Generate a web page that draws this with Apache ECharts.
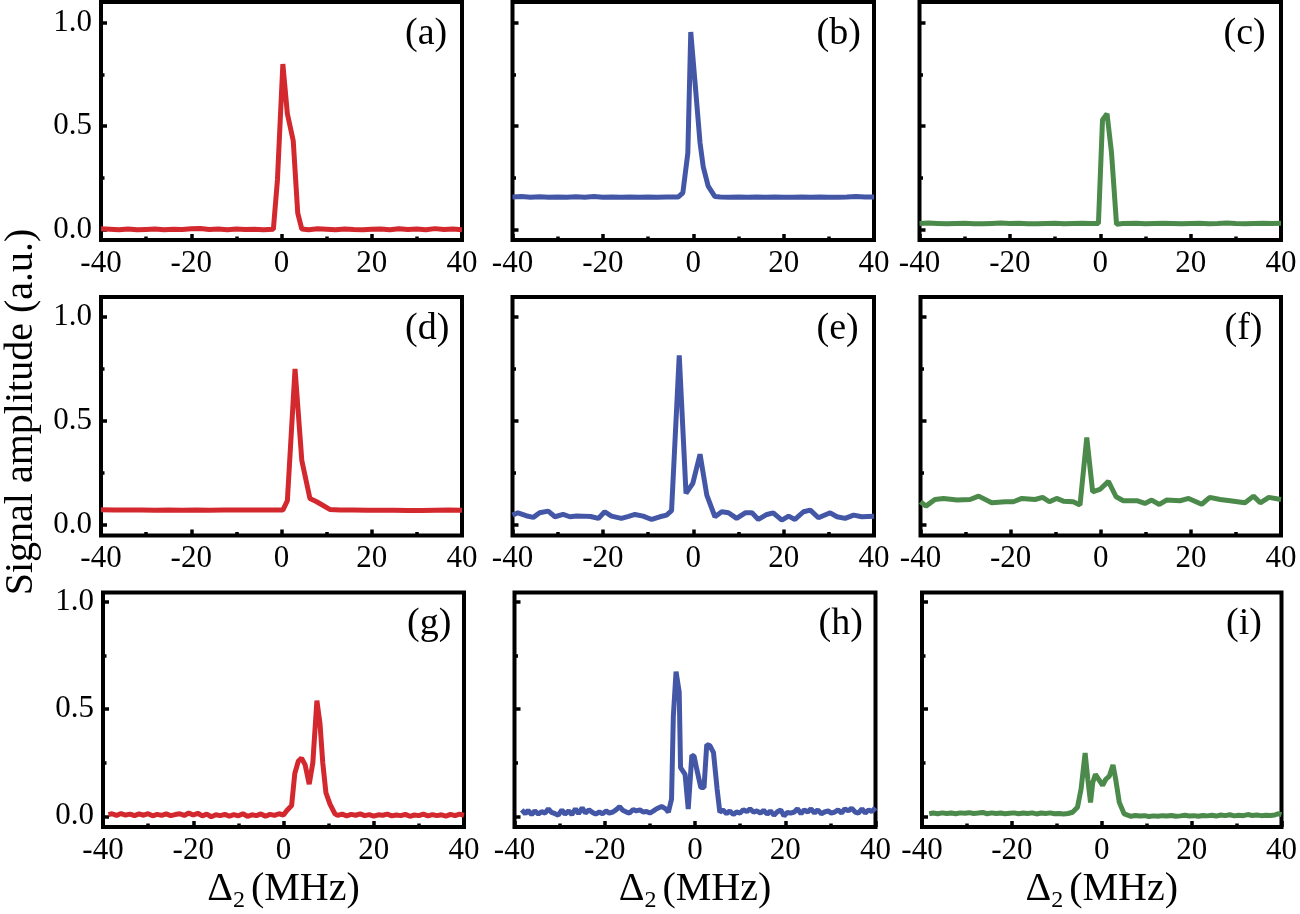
<!DOCTYPE html>
<html style="height: 100%">
<head>
    <meta charset="utf-8">
</head>
<body style="height: 100%; margin: 0; background: #fff">
<div id="container" style="width: 1300px; height: 914px"></div>
<script type="text/javascript" src="https://cdn.jsdelivr.net/npm/echarts@6.0.0/dist/echarts.min.js"></script>
<script type="text/javascript">
    // --- data: [detuning (MHz), amplitude (a.u.)] ---
    var panelA = [
        [-40, 0.004], [-38, 0.002], [-36, 0.0], [-34, 0.003], [-32, -0.001], [-30, 0.001], [-28, 0.003],
        [-26, 0.0], [-24, 0.002], [-22, 0.001], [-20, 0.004], [-18, 0.006], [-16, 0.001], [-14, 0.003],
        [-12, 0.0], [-10, 0.003], [-8, 0.001], [-6, 0.002], [-4, 0.0], [-1.8, 0.002], [-0.9, 0.24],
        [0.3, 0.8], [1.3, 0.56], [2.6, 0.43], [3.6, 0.08], [4.5, 0.003], [6, 0.0], [8, 0.004],
        [10, 0.002], [12, 0.0], [14, 0.003], [16, 0.001], [18, 0.0], [20, 0.002], [22, 0.003], [24, 0.0],
        [26, 0.004], [28, 0.001], [30, 0.003], [32, 0.0], [34, 0.005], [36, 0.001], [38, 0.003], [40, 0.0]
    ];
    var panelB = [
        [-40, 0.158], [-38, 0.16], [-36, 0.157], [-34, 0.159], [-32, 0.157], [-30, 0.158], [-28, 0.157],
        [-26, 0.159], [-24, 0.157], [-22, 0.16], [-20, 0.157], [-18, 0.158], [-16, 0.156], [-14, 0.158],
        [-12, 0.157], [-10, 0.158], [-8, 0.157], [-6, 0.158], [-3.3, 0.158], [-2.3, 0.178], [-1.2, 0.37],
        [-0.55, 0.955], [0.4, 0.71], [1.5, 0.42], [2.2, 0.305], [3.3, 0.21], [4.8, 0.16], [6, 0.158],
        [8, 0.157], [10, 0.158], [12, 0.157], [14, 0.158], [16, 0.157], [18, 0.158], [20, 0.157],
        [22, 0.157], [24, 0.158], [26, 0.157], [28, 0.158], [30, 0.157], [32, 0.157], [34, 0.158],
        [36, 0.16], [38, 0.158], [40, 0.158]
    ];
    var panelC = [
        [-40, 0.03], [-38, 0.032], [-36, 0.03], [-34, 0.028], [-32, 0.03], [-30, 0.031], [-28, 0.029],
        [-26, 0.028], [-24, 0.03], [-22, 0.032], [-20, 0.03], [-18, 0.031], [-16, 0.029], [-14, 0.028],
        [-12, 0.03], [-10, 0.031], [-8, 0.029], [-6, 0.03], [-4, 0.031], [-2, 0.03], [-0.4, 0.03],
        [0.5, 0.53], [1.5, 0.56], [2.5, 0.37], [3.6, 0.026], [5, 0.03], [8, 0.031], [10, 0.029],
        [12, 0.03], [14, 0.031], [16, 0.03], [18, 0.029], [20, 0.03], [22, 0.031], [24, 0.029], [26, 0.03],
        [28, 0.032], [30, 0.03], [32, 0.029], [34, 0.03], [36, 0.031], [38, 0.03], [40, 0.031]
    ];
    var panelD = [
        [-40, 0.074], [-37, 0.073], [-34, 0.072], [-31, 0.073], [-28, 0.071], [-25, 0.072], [-22, 0.071],
        [-19, 0.072], [-16, 0.071], [-13, 0.072], [-10, 0.073], [-7, 0.072], [-4, 0.073], [-2, 0.072],
        [0.3, 0.072], [1.3, 0.117], [3.0, 0.75], [4.5, 0.31], [6.3, 0.128], [7.8, 0.112], [10.7, 0.075],
        [13, 0.073], [16, 0.072], [19, 0.071], [22, 0.071], [25, 0.071], [28, 0.07], [31, 0.07],
        [34, 0.071], [37, 0.072], [40, 0.071]
    ];
    var panelE = [
        [-40, 0.048], [-38.8, 0.059], [-37, 0.045], [-35.4, 0.037], [-34, 0.059], [-32.1, 0.067],
        [-30.6, 0.04], [-28.8, 0.051], [-27.3, 0.04], [-25.8, 0.044], [-24.4, 0.043], [-22.7, 0.041],
        [-21.0, 0.032], [-19.6, 0.064], [-18.1, 0.043], [-15.9, 0.032], [-14.3, 0.042], [-12.9, 0.051],
        [-11.1, 0.043], [-9.2, 0.027], [-7.4, 0.04], [-5.9, 0.048], [-4.8, 0.069], [-3.1, 0.815],
        [-1.6, 0.152], [-0.1, 0.2], [1.5, 0.34], [3.0, 0.144], [4.8, 0.04], [6.3, 0.064], [7.8, 0.059],
        [9.6, 0.032], [11.5, 0.059], [13.0, 0.059], [14.4, 0.027], [16.3, 0.051], [17.7, 0.059],
        [19.6, 0.024], [21.1, 0.043], [22.5, 0.027], [24.4, 0.064], [25.9, 0.072], [27.7, 0.035],
        [30.3, 0.059], [31.8, 0.04], [33.6, 0.032], [35.5, 0.048], [37.3, 0.04], [40, 0.043]
    ];
    var panelF = [
        [-40, 0.112], [-38.8, 0.091], [-36.8, 0.123], [-34.9, 0.128], [-31.9, 0.12], [-29, 0.123],
        [-27.1, 0.139], [-24.2, 0.107], [-21.2, 0.112], [-19.4, 0.112], [-17.5, 0.128], [-14.6, 0.123],
        [-12.9, 0.133], [-11.4, 0.112], [-9.8, 0.128], [-8.3, 0.115], [-6.1, 0.112], [-4.6, 0.096],
        [-3.1, 0.42], [-1.8, 0.16], [-0.2, 0.171], [1.7, 0.21], [3.4, 0.136], [5, 0.117], [8, 0.117],
        [9.8, 0.104], [11.3, 0.12], [13, 0.099], [14.6, 0.12], [17.6, 0.117], [19.5, 0.128], [22.4, 0.1],
        [24.2, 0.133], [26.5, 0.123], [28.7, 0.117], [32, 0.107], [33.9, 0.139], [35.4, 0.107],
        [37.3, 0.133], [40, 0.123]
    ];
    var panelG = [
        [-38.8, 0.008], [-38, 0.012], [-37, 0.004], [-36, 0.013], [-35, 0.006], [-34, 0.01], [-33, 0.003],
        [-32, 0.011], [-31, 0.005], [-30, 0.012], [-29, 0.002], [-28, 0.009], [-27, 0.004], [-26, 0.011],
        [-25, 0.003], [-24, 0.008], [-23, 0.012], [-22, 0.004], [-21, 0.015], [-20, 0.006], [-19, 0.014],
        [-18, 0.002], [-17, 0.01], [-16, -0.002], [-15, 0.007], [-14, 0.003], [-13, 0.009], [-12, 0.001],
        [-11, 0.008], [-10, 0.002], [-9, 0.012], [-8, 0.0], [-7, 0.007], [-6, 0.003], [-5, 0.011],
        [-4, 0.0], [-3, 0.009], [-2, 0.004], [-1, 0.012], [0, 0.006], [0.7, 0.026], [1.8, 0.05],
        [2.5, 0.2], [3.3, 0.258], [4.0, 0.272], [4.8, 0.24], [5.7, 0.15], [6.5, 0.25], [7.4, 0.54],
        [8.1, 0.43], [8.7, 0.25], [9.4, 0.11], [10.3, 0.057], [11.4, 0.011], [12, 0.004], [13, 0.01],
        [14, 0.002], [15, 0.009], [16, 0.005], [17, 0.011], [18, 0.003], [19, 0.008], [20, 0.001],
        [21, 0.007], [22, 0.005], [23, 0.01], [24, 0.002], [25, 0.006], [26, 0.003], [27, 0.009],
        [28, 0.0], [29, 0.006], [30, 0.003], [31, 0.01], [32, 0.002], [33, 0.008], [34, 0.003],
        [35, 0.007], [36, 0.001], [37, 0.009], [38, 0.003], [39, 0.01], [40, 0.005]
    ];
    var panelH = [
        [-38.4, 0.03], [-37.6, 0.012], [-37, 0.028], [-36.2, 0.008], [-35.5, 0.025], [-34.7, 0.01],
        [-34, 0.022], [-33.2, 0.015], [-32.5, 0.035], [-31.8, 0.018], [-31, 0.012], [-30.3, 0.005],
        [-29.5, 0.03], [-28.8, 0.01], [-28, 0.025], [-27.3, 0.008], [-26.5, 0.035], [-25.8, 0.012],
        [-25, 0.04], [-24.3, 0.015], [-23.5, 0.03], [-22.7, 0.018], [-22, 0.01], [-21.2, 0.02],
        [-20.5, 0.012], [-19.7, 0.025], [-19, 0.015], [-18.2, 0.02], [-17.5, 0.03], [-16.7, 0.045],
        [-16, 0.028], [-15.2, 0.02], [-14.5, 0.015], [-13.7, 0.032], [-13, 0.025], [-12.2, 0.03],
        [-11.5, 0.02], [-10.7, 0.022], [-10, 0.015], [-9.2, 0.025], [-8.5, 0.035], [-7.4, 0.046],
        [-6.5, 0.035], [-5.9, 0.019], [-5.2, 0.08], [-4.8, 0.467], [-4.2, 0.675], [-3.5, 0.58],
        [-3.2, 0.227], [-2.2, 0.196], [-1.5, 0.034], [-0.7, 0.285], [-0.2, 0.28], [0.4, 0.219],
        [1.3, 0.134], [2.0, 0.134], [2.6, 0.335], [3.3, 0.33], [4.1, 0.297], [4.9, 0.127], [5.5, 0.019],
        [6.2, 0.03], [7, 0.012], [7.7, 0.025], [8.5, 0.008], [9.2, 0.02], [10, 0.015], [10.7, 0.03],
        [11.5, 0.022], [12.2, 0.035], [13, 0.02], [13.7, 0.025], [14.5, 0.015], [15.2, 0.028], [16, 0.01],
        [16.7, 0.025], [17.5, 0.005], [18.2, 0.02], [19, 0.03], [19.7, 0.002], [20.5, 0.018],
        [21.2, 0.015], [22, 0.02], [22.7, 0.035], [23.5, 0.012], [24.2, 0.03], [25, 0.02], [25.7, 0.035],
        [26.5, 0.015], [27.2, 0.03], [28, 0.012], [28.7, 0.02], [29.5, 0.025], [30.2, 0.015], [31, 0.02],
        [31.7, 0.03], [32.5, 0.015], [33.2, 0.035], [34, 0.025], [34.7, 0.038], [35.5, 0.02],
        [36.2, 0.015], [37, 0.035], [37.7, 0.015], [38.5, 0.03], [39.2, 0.022], [40, 0.04]
    ];
    var panelI = [
        [-38.4, 0.012], [-37.5, 0.015], [-36.5, 0.012], [-35.5, 0.016], [-34.5, 0.013], [-33.5, 0.015],
        [-32.5, 0.012], [-31.5, 0.016], [-30.5, 0.014], [-29.5, 0.017], [-28.5, 0.013], [-27.5, 0.015],
        [-26.5, 0.018], [-25.5, 0.012], [-24.5, 0.016], [-23.5, 0.013], [-22.5, 0.015], [-21.5, 0.012],
        [-20.5, 0.014], [-19.5, 0.016], [-18.5, 0.012], [-17.5, 0.015], [-16.5, 0.013], [-15.5, 0.016],
        [-14.5, 0.011], [-13.5, 0.015], [-12.5, 0.013], [-11.5, 0.016], [-10.5, 0.012], [-9.5, 0.013],
        [-8.5, 0.011], [-7.5, 0.013], [-6.5, 0.019], [-5.4, 0.042], [-4.6, 0.127], [-3.7, 0.295],
        [-3.1, 0.173], [-2.5, 0.065], [-2.0, 0.158], [-1.4, 0.196], [-0.7, 0.173], [0.2, 0.145],
        [0.9, 0.173], [1.7, 0.188], [2.5, 0.24], [3.1, 0.173], [3.9, 0.065], [5.0, 0.011], [6.5, 0.0],
        [7.5, 0.004], [8.5, 0.001], [9.5, 0.003], [10.5, -0.001], [11.5, 0.002], [12.5, 0.0],
        [13.5, 0.003], [14.5, 0.001], [15.5, 0.004], [16.5, 0.0], [17.5, 0.002], [18.5, 0.005],
        [19.5, 0.001], [20.5, 0.003], [21.5, 0.0], [22.5, 0.004], [23.5, 0.002], [24.5, 0.005],
        [25.5, 0.001], [26.5, 0.006], [27.5, 0.003], [28.5, 0.007], [29.5, 0.002], [30.5, 0.005],
        [31.5, 0.003], [32.5, 0.008], [33.5, 0.004], [34.5, 0.006], [35.5, 0.003], [36.5, 0.005],
        [37.5, 0.004], [38.5, 0.006], [39.2, 0.012], [40, 0.008]
    ];

    var panels = [panelA, panelB, panelC, panelD, panelE, panelF, panelG, panelH, panelI];
    var panelNames = ['(a)', '(b)', '(c)', '(d)', '(e)', '(f)', '(g)', '(h)', '(i)'];
    var colColors = ['#d2282e', '#4457a7', '#4b8a4b'];
    var xTicks = [-40, 40, 20];          // min, max, interval
    var yMajor = [0, 0.5, 1];
    var yMinor = [0.25, 0.75];
    var rowYRange = [[-0.05, 1.1], [-0.05, 1.095], [-0.05, 1.045]];

    // grid boxes [left, top, right, bottom] in px
    var boxes = [
        [101, 2, 462, 240], [512.5, 2, 874, 240], [919.5, 2, 1281, 240],
        [101, 297, 462, 535.5], [512.5, 297, 874, 535.5], [920.5, 297, 1281, 535.5],
        [103, 592.5, 464, 829], [514.5, 592.5, 875.5, 829], [922, 592.5, 1283, 829]
    ];

    var serif = "'Liberation Serif', 'Times New Roman', serif";
    var black = '#000';

    var dom = document.getElementById("container");
    var myChart = echarts.init(dom);

    var grids = [], xAxes = [], yAxes = [], series = [], graphics = [];

    for (var i = 0; i < 9; i++) {
        var row = Math.floor(i / 3), col = i % 3;
        var b = boxes[i];
        var yr = rowYRange[row];
        grids.push({
            left: b[0], top: b[1], width: b[2] - b[0], height: b[3] - b[1],
            show: true, borderColor: black, borderWidth: 4, backgroundColor: 'transparent'
        });
        var xa = {
            gridIndex: i, type: 'value', position: 'bottom',
            min: xTicks[0], max: xTicks[1], interval: xTicks[2],
            axisLine: {show: false, onZero: false},
            axisTick: {inside: true, length: 6, lineStyle: {color: black, width: 3.5}},
            minorTick: {show: true, splitNumber: 2, length: 3.5, lineStyle: {color: black, width: 3.5}},
            splitLine: {show: false},
            axisLabel: {color: black, fontFamily: serif, fontSize: 31, margin: 8}
        };
        if (row === 2) {
            xa.name = '{m|Δ}{s|2}{m|(MHz)}';
            xa.nameLocation = 'middle';
            xa.nameGap = 38;
            xa.nameTextStyle = {
                rich: {
                    m: {fontFamily: serif, fontSize: 40, color: black, lineHeight: 48, verticalAlign: 'middle'},
                    s: {fontFamily: serif, fontSize: 24, color: black, lineHeight: 24, verticalAlign: 'bottom', padding: [0, 6, 0, 0]}
                }
            };
        }
        xAxes.push(xa);
        // major y axis
        yAxes.push({
            gridIndex: i, type: 'value', position: 'left', min: yr[0], max: yr[1],
            axisLine: {show: false, onZero: false},
            axisTick: {inside: true, length: 6, customValues: yMajor, lineStyle: {color: black, width: 3.5}},
            splitLine: {show: false},
            axisLabel: {
                show: col === 0, customValues: yMajor, color: black, fontFamily: serif,
                fontSize: 31, margin: 9,
                formatter: function (v) { return v.toFixed(1); }
            }
        });
        // minor y ticks
        yAxes.push({
            gridIndex: i, type: 'value', position: 'left', min: yr[0], max: yr[1],
            axisLine: {show: false, onZero: false},
            axisTick: {inside: true, length: 3.5, customValues: yMinor, lineStyle: {color: black, width: 3.5}},
            splitLine: {show: false},
            axisLabel: {show: false}
        });
        series.push({
            type: 'line', xAxisIndex: i, yAxisIndex: 2 * i,
            data: panels[i], showSymbol: false, silent: true,
            color: colColors[col],
            lineStyle: {color: colColors[col], width: 5}
        });
        graphics.push({
            type: 'text', x: b[0] + 304, y: b[1] + 32,
            style: {text: panelNames[i], fontFamily: serif, fontSize: 38, fill: black, align: 'left', verticalAlign: 'middle'}
        });
    }

    graphics.push({
        type: 'text', x: 21, y: 412, rotation: Math.PI / 2,
        style: {text: 'Signal amplitude (a.u.)', fontFamily: serif, fontSize: 40, fill: black, align: 'center', verticalAlign: 'middle'}
    });

    myChart.setOption({
        animation: false,
        backgroundColor: '#fff',
        grid: grids,
        xAxis: xAxes,
        yAxis: yAxes,
        series: series,
        graphic: graphics
    });
</script>
</body>
</html>
